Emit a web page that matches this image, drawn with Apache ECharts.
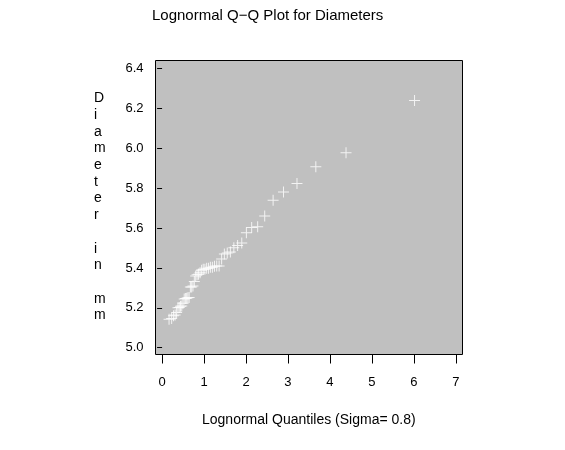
<!DOCTYPE html>
<html>
<head>
    <meta charset="utf-8">
    <title>Lognormal Q-Q Plot for Diameters</title>
    <script src="https://cdn.jsdelivr.net/npm/echarts@6/dist/echarts.min.js"></script>
    <style>
        html,body{
            margin: 0;
            padding: 0;
            background: #fff;
        }
        #main{
            width: 565px;
            height: 450px;
        }
    </style>
</head>
<body>
    <div id="main"></div>
    <script type="text/javascript">
        // lognormal quantiles (sigma = 0.8)
        var quantiles = [
            0.166, 0.228, 0.273, 0.311, 0.346, 0.378, 0.409, 0.439, 0.469, 0.498,
            0.527, 0.556, 0.585, 0.614, 0.644, 0.674, 0.705, 0.736, 0.768, 0.801,
            0.834, 0.869, 0.905, 0.942, 0.980, 1.020, 1.062, 1.105, 1.151, 1.199,
            1.249, 1.302, 1.359, 1.419, 1.484, 1.553, 1.628, 1.710, 1.800, 1.899,
            2.009, 2.135, 2.278, 2.446, 2.646, 2.894, 3.215, 3.664, 4.384, 6.017
        ];
        // ordered diameters in mm
        var diameters = [
            5.143, 5.146, 5.160, 5.164, 5.177, 5.200, 5.202, 5.208, 5.209, 5.223,
            5.244, 5.247, 5.248, 5.251, 5.252, 5.304, 5.304, 5.309, 5.332, 5.360,
            5.366, 5.368, 5.376, 5.388, 5.394, 5.394, 5.399, 5.399, 5.404, 5.404,
            5.409, 5.410, 5.410, 5.445, 5.470, 5.475, 5.480, 5.501, 5.512, 5.525,
            5.576, 5.603, 5.607, 5.661, 5.739, 5.781, 5.823, 5.907, 5.977, 6.239
        ];
        var xTicks = [0, 1, 2, 3, 4, 5, 6, 7];
        var yTicks = [5.0, 5.2, 5.4, 5.6, 5.8, 6.0, 6.2, 6.4];

        var points = [];
        for (var i = 0; i < quantiles.length; i++) {
            points.push([quantiles[i], diameters[i]]);
        }

        var font = 'Liberation Sans, Arial, sans-serif';
        // plus sign marker
        var plus = 'path://M5,0h1v5h5v1h-5v5h-1v-5h-5v-1h5z';

        var myChart = echarts.init(document.getElementById('main'));
        var option = {
            animation: false,
            backgroundColor: '#fff',
            title: {
                text: 'Lognormal Q\u2212Q Plot for Diameters',
                left: 152,
                top: 8,
                padding: 0,
                textStyle: {
                    fontFamily: font,
                    fontSize: 15,
                    fontWeight: 'normal',
                    color: '#000'
                }
            },
            // frame is drawn by the grid border, half-pixel so it stays 1px
            grid: {
                left: 155.5,
                top: 60.5,
                width: 307,
                height: 294,
                show: true,
                backgroundColor: '#c0c0c0',
                borderColor: '#000',
                borderWidth: 1
            },
            xAxis: {
                type: 'value',
                min: -0.157,
                max: 7.16,
                splitLine: { show: false },
                axisLine: { show: false },
                axisTick: {
                    show: true,
                    length: 9,
                    customValues: xTicks,
                    lineStyle: { color: '#000' }
                },
                axisLabel: {
                    margin: 21,
                    customValues: xTicks,
                    fontFamily: font,
                    fontSize: 13,
                    color: '#000'
                }
            },
            yAxis: {
                type: 'value',
                min: 4.966,
                max: 6.44,
                splitLine: { show: false },
                axisLine: { show: false },
                axisTick: {
                    show: true,
                    length: 5,
                    customValues: yTicks,
                    lineStyle: { color: '#000' }
                },
                axisLabel: {
                    margin: 12,
                    customValues: yTicks,
                    formatter: function (v) { return v.toFixed(1); },
                    fontFamily: font,
                    fontSize: 13,
                    color: '#000'
                }
            },
            graphic: [
                {
                    // vertical axis title, one letter per line
                    type: 'text',
                    left: 94,
                    top: 90,
                    style: {
                        text: 'D\ni\na\nm\ne\nt\ne\nr\n\ni\nn\n\nm\nm',
                        align: 'center',
                        lineHeight: 16.7,
                        fontFamily: font,
                        fontSize: 14,
                        fill: '#000'
                    }
                },
                {
                    type: 'text',
                    left: 202,
                    top: 413,
                    style: {
                        text: 'Lognormal Quantiles (Sigma= 0.8)',
                        fontFamily: font,
                        fontSize: 14,
                        fill: '#000'
                    }
                }
            ],
            series: [{
                type: 'scatter',
                data: points,
                symbol: plus,
                symbolSize: 11,
                itemStyle: { color: '#fff' }
            }]
        };
        myChart.setOption(option, true);
    </script>
</body>
</html>
